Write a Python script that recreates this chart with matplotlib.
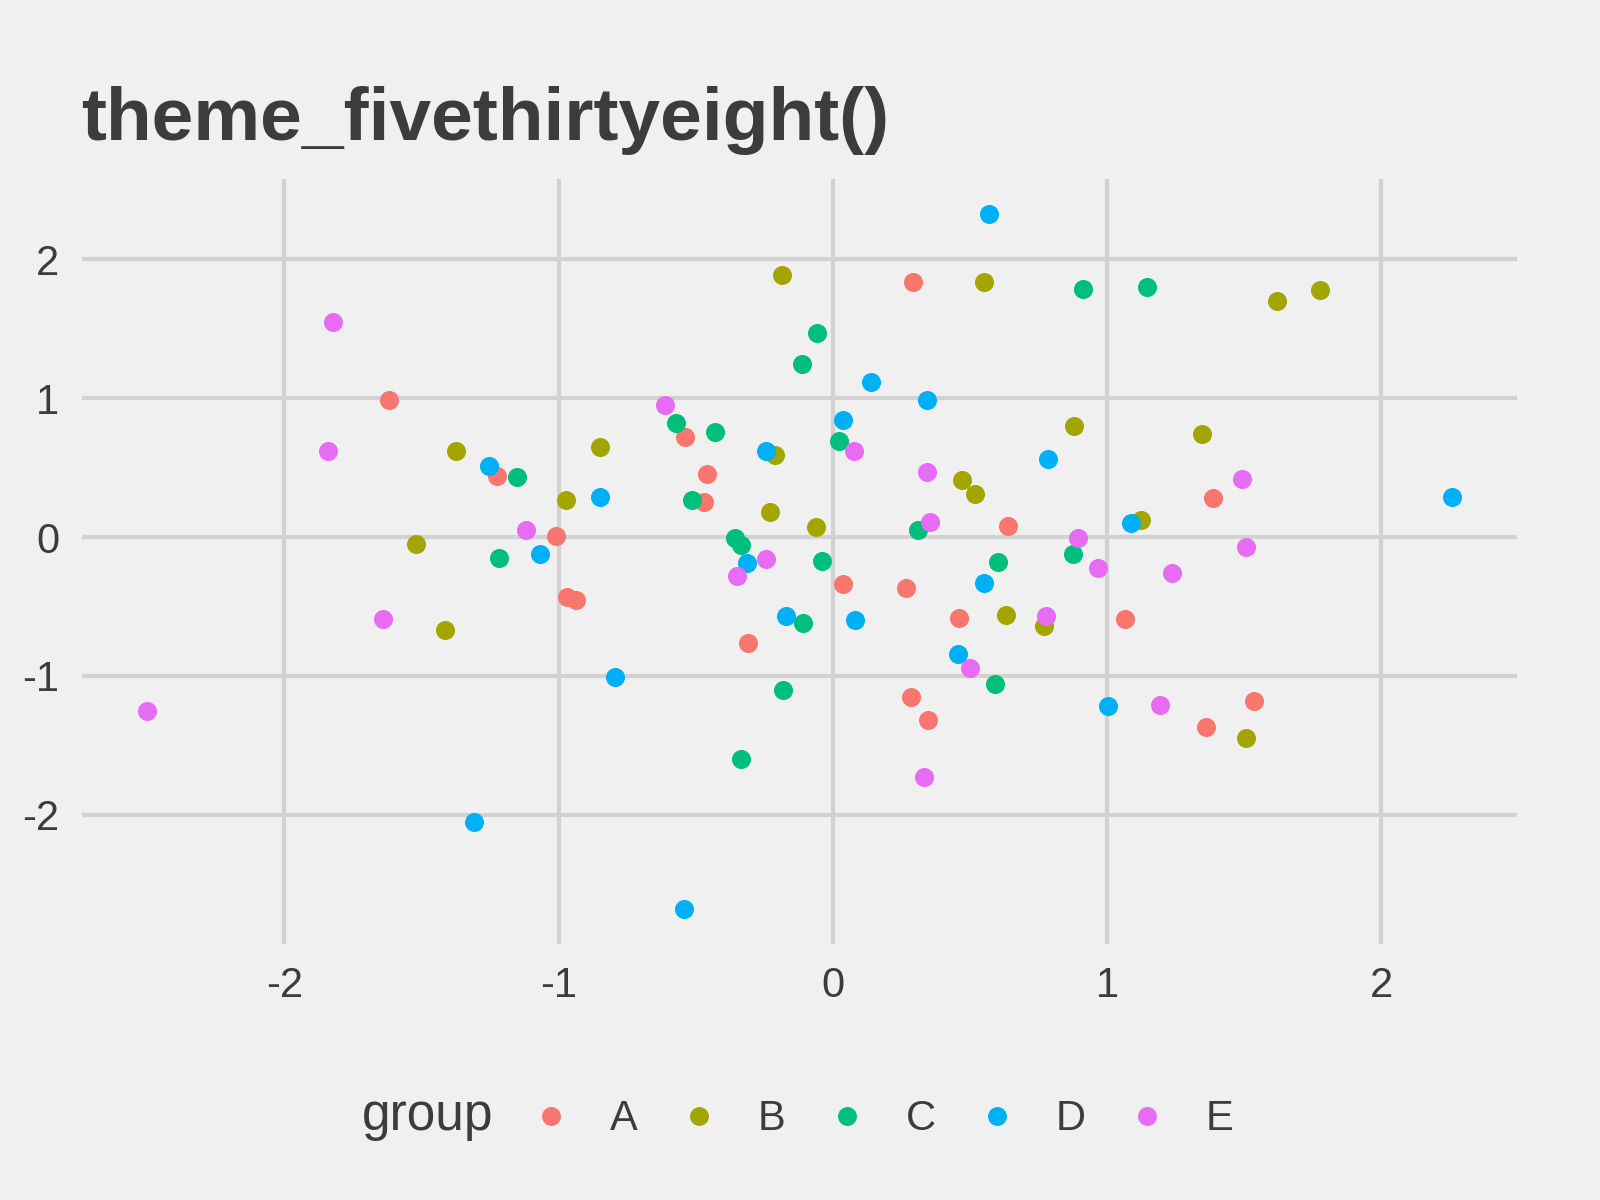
import matplotlib
matplotlib.use("Agg")
import matplotlib.pyplot as plt
from matplotlib.lines import Line2D

# 데이터
groups = ["A", "B", "C", "D", "E"]
colors = ["#F8766D", "#A3A500", "#00BF7D", "#00B0F6", "#E76BF3"]

a_x = [-1.617, -1.223, -1.011, -0.970, -0.937, -0.539, -0.457, -0.468, -0.309, 0.037,
       0.268, 0.294, 0.286, 0.349, 0.461, 0.639, 1.067, 1.387, 1.361, 1.535]
a_y = [0.99, 0.44, 0.007, -0.43, -0.455, 0.72, 0.455, 0.25, -0.76, -0.34,
       -0.37, 1.84, -1.15, -1.32, -0.58, 0.08, -0.59, 0.28, -1.37, -1.18]

b_x = [-1.375, -1.520, -1.413, -0.974, -0.848, -0.186, -0.212, -0.230, -0.063, 0.550,
       0.472, 0.517, 0.632, 0.770, 0.881, 1.126, 1.346, 1.506, 1.621, 1.777]
b_y = [0.62, -0.05, -0.67, 0.27, 0.65, 1.89, 0.59, 0.18, 0.07, 1.84,
       0.41, 0.31, -0.56, -0.64, 0.80, 0.12, 0.74, -1.45, 1.70, 1.78]

c_x = [-1.152, -1.219, -0.572, -0.431, -0.513, -0.357, -0.335, -0.112, -0.059, 0.022,
       -0.041, -0.108, -0.182, -0.335, 0.312, 0.602, 0.591, 0.914, 1.145, 0.877]
c_y = [0.43, -0.15, 0.82, 0.76, 0.27, -0.01, -0.06, 1.25, 1.47, 0.69,
       -0.17, -0.62, -1.10, -1.60, 0.05, -0.18, -1.06, 1.79, 1.80, -0.12]

d_x = [-1.253, -1.067, -1.309, -0.848, -0.796, -0.543, -0.312, -0.245, -0.171, 0.037,
       0.082, 0.138, 0.342, 0.569, 0.550, 0.457, 0.784, 1.004, 1.089, 2.257]
d_y = [0.51, -0.12, -2.05, 0.29, -1.01, -2.68, -0.19, 0.62, -0.57, 0.84,
       -0.60, 1.12, 0.99, 2.33, -0.33, -0.84, 0.56, -1.22, 0.10, 0.29]

e_x = [-2.502, -1.840, -1.822, -1.639, -1.119, -0.613, -0.349, -0.245, 0.078, 0.342,
       0.353, 0.331, 0.502, 0.777, 0.896, 0.967, 1.193, 1.238, 1.494, 1.506]
e_y = [-1.25, 0.62, 1.55, -0.59, 0.05, 0.95, -0.28, -0.16, 0.62, 0.47,
       0.11, -1.73, -0.94, -0.57, -0.01, -0.22, -1.21, -0.26, 0.42, -0.07]

xs = [a_x, b_x, c_x, d_x, e_x]
ys = [a_y, b_y, c_y, d_y, e_y]

x_ticks = [-2, -1, 0, 1, 2]
y_ticks = [-2, -1, 0, 1, 2]

BG = "#F0F0F0"
GRID = "#D2D2D2"
TXT = "#3C3C3C"

plt.rcParams["font.family"] = ["Liberation Sans", "DejaVu Sans"]

fig = plt.figure(figsize=(8, 6), dpi=200, facecolor=BG)
ax = fig.add_axes([0.051, 0.2134, 0.897, 0.6376], facecolor=BG)

for gx, gy, col in zip(xs, ys, colors):
    ax.scatter(gx, gy, s=47, color=col, linewidths=0, zorder=3)

# 축 범위 (ggplot 기본 5% 확장)
all_x = [v for g in xs for v in g]
all_y = [v for g in ys for v in g]
xr = max(all_x) - min(all_x)
yr = max(all_y) - min(all_y)
ax.set_xlim(min(all_x) - 0.05 * xr, max(all_x) + 0.05 * xr)
ax.set_ylim(min(all_y) - 0.05 * yr, max(all_y) + 0.05 * yr)

ax.set_xticks(x_ticks)
ax.set_yticks(y_ticks)
ax.set_xticklabels([str(t) for t in x_ticks])
ax.set_yticklabels([str(t) for t in y_ticks])
ax.tick_params(length=0, pad=8, labelsize=15, labelcolor=TXT)
ax.grid(True, color=GRID, linewidth=1.5, zorder=0)
ax.set_axisbelow(True)
for s in ax.spines.values():
    s.set_visible(False)

# 제목
fig.text(0.051, 0.8835, "theme_fivethirtyeight()", fontsize=27, fontweight="bold",
         color=TXT, va="baseline", ha="left")

# 범례
fig.text(0.2264, 0.0587, "group", fontsize=18.5, color=TXT, va="baseline", ha="left")
handles = [Line2D([], [], linestyle="none", marker="o", markersize=6.8,
                  markerfacecolor=c, markeredgewidth=0) for c in colors]
leg = fig.legend(handles, groups, loc="center left", bbox_to_anchor=(0.3314, 0.0672),
                 ncol=5, frameon=False, fontsize=15, handlelength=1.0,
                 handletextpad=0.92, columnspacing=0.96, borderpad=0, borderaxespad=0)
for t in leg.get_texts():
    t.set_color(TXT)

fig.savefig("out.png", dpi=200, facecolor=BG)
